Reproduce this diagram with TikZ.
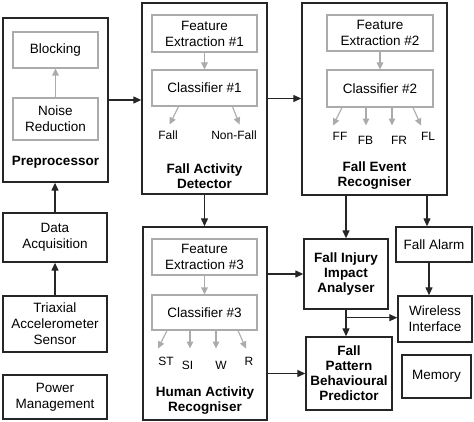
\documentclass[tikz,border=0pt]{standalone}
\usepackage{fontspec}
\setmainfont{Liberation Sans}
\usetikzlibrary{arrows.meta,calc}
\begin{document}
\begin{tikzpicture}[x=1pt,y=-1pt,
  blk/.style={draw=black!85, line width=1.4pt, fill=white, inner sep=0pt, align=center,
              font=\fontsize{13.5}{16}\selectfont},
  sub/.style={draw=black!33, line width=1.1pt, inner sep=0pt, align=center,
              font=\fontsize{13.5}{16}\selectfont},
  ttl/.style={inner sep=0pt, align=center, font=\fontsize{13.5}{15}\selectfont\bfseries},
  outlbl/.style={inner sep=0pt, font=\fontsize{12}{14}\selectfont},
  arr/.style={line width=1.3pt, draw=black!85, -{Triangle[length=8pt,width=7pt]}},
  garr/.style={line width=1.1pt, draw=black!33, -{Triangle[length=7pt,width=6.5pt]}},
]
\useasboundingbox (0,0) rectangle (474,422);

% ---- Preprocessor ----
\node[blk, minimum width=105pt, minimum height=164pt] (pre) at (55.5,100) {};
\node[sub, minimum width=85pt, minimum height=36pt] (blocking) at (55.5,50) {Blocking};
\node[sub, minimum width=85pt, minimum height=42pt] (noise) at (55.5,119) {Noise\\Reduction};
\node[ttl] (prelbl) at (55.5,162) {Preprocessor};
\draw[garr] (noise.north) -- (blocking.south);

% ---- Fall Activity Detector ----
\node[blk, minimum width=125pt, minimum height=191pt] (fad) at (204.5,98.5) {};
\node[sub, minimum width=105pt, minimum height=37pt] (fe1) at (204.5,33.5) {Feature\\Extraction \#1};
\node[sub, minimum width=105pt, minimum height=36pt] (cl1) at (204.5,88) {Classifier \#1};
\node[outlbl] (fall) at (168,135) {Fall};
\node[outlbl] (nonfall) at (234,135) {Non-Fall};
\node[ttl] (fadlbl) at (204.5,176) {Fall Activity\\Detector};
\draw[garr] (fe1.south) -- (cl1.north);
\draw[garr] ($(cl1.south)+(-26,0)$) -- ($(cl1.south)+(-35,18)$);
\draw[garr] ($(cl1.south)+(28,0)$) -- ($(cl1.south)+(35,18)$);

% ---- Fall Event Recogniser ----
\node[blk, minimum width=145pt, minimum height=192pt] (fer) at (374.5,99) {};
\node[sub, minimum width=106pt, minimum height=36pt] (fe2) at (380,33) {Feature\\Extraction \#2};
\node[sub, minimum width=106pt, minimum height=37pt] (cl2) at (380,88.5) {Classifier \#2};
\node[outlbl] (ff) at (340,136) {FF};
\node[outlbl] (fb) at (365.5,140) {FB};
\node[outlbl] (fr) at (399,140) {FR};
\node[outlbl] (fl) at (428,136) {FL};
\node[ttl] (ferlbl) at (374.5,176) {Fall Event\\Recogniser};
\draw[garr] (fe2.south) -- (cl2.north);
\draw[garr] ($(cl2.south)+(-38,0)$) -- ($(cl2.south)+(-47,18)$);
\draw[garr] ($(cl2.south)+(-14,0)$) -- ($(cl2.south)+(-14,18)$);
\draw[garr] ($(cl2.south)+(12,0)$) -- ($(cl2.south)+(12,18)$);
\draw[garr] ($(cl2.south)+(33,0)$) -- ($(cl2.south)+(41,18)$);

% ---- Left column ----
\node[blk, minimum width=104pt, minimum height=49pt] (daq) at (55,237.5) {Data\\Acquisition};
\node[blk, minimum width=104pt, minimum height=56pt] (tri) at (55,324) {Triaxial\\Accelerometer\\Sensor};
\node[blk, minimum width=104pt, minimum height=44pt] (pow) at (55,397) {Power\\Management};

% ---- Human Activity Recogniser ----
\node[blk, minimum width=124pt, minimum height=193pt] (har) at (205,323.5) {};
\node[sub, minimum width=105pt, minimum height=36pt] (fe3) at (204.5,257) {Feature\\Extraction \#3};
\node[sub, minimum width=105pt, minimum height=35pt] (cl3) at (204.5,312.5) {Classifier \#3};
\node[outlbl] (st) at (166,361) {ST};
\node[outlbl] (si) at (187.5,365) {SI};
\node[outlbl] (w) at (221,365) {W};
\node[outlbl] (r) at (249,361) {R};
\node[ttl] (harlbl) at (205,400.5) {Human Activity\\Recogniser};
\draw[garr] (fe3.south) -- (cl3.north);
\draw[garr] ($(cl3.south)+(-37.5,0)$) -- ($(cl3.south)+(-46.5,18)$);
\draw[garr] ($(cl3.south)+(-14.5,0)$) -- ($(cl3.south)+(-14.5,18)$);
\draw[garr] ($(cl3.south)+(11.5,0)$) -- ($(cl3.south)+(11.5,18)$);
\draw[garr] ($(cl3.south)+(33.5,0)$) -- ($(cl3.south)+(41.5,18)$);

% ---- Right column ----
\node[blk, minimum width=84pt, minimum height=70pt, font=\fontsize{13.5}{15}\selectfont\bfseries] (fiia) at (346,274) {Fall Injury\\Impact\\Analyser};
\node[blk, minimum width=76pt, minimum height=35pt] (alarm) at (434,244.5) {Fall Alarm};
\node[blk, minimum width=74pt, minimum height=46pt] (wif) at (435,319) {Wireless\\Interface};
\node[blk, minimum width=86pt, minimum height=73pt, font=\fontsize{13.5}{15}\selectfont\bfseries] (fpbp) at (349,373.5) {Fall\\Pattern\\Behavioural\\Predictor};
\node[blk, minimum width=69pt, minimum height=43pt] (mem) at (436.5,376.5) {Memory};

% ---- Connectors ----
\draw[arr] (pre.east) -- (pre.east -| fad.west);
\draw[arr] (fad.east) -- (fad.east -| fer.west);
\draw[arr] (daq.north) -- (pre.south -| daq.north);
\draw[arr] (tri.north) -- (daq.south);
\draw[arr] (fad.south) -- (fad.south |- har.north);
\draw[arr] (fer.south -| fiia.north) -- (fiia.north);
\coordinate (alarmin) at ($(alarm.north)+(-7,0)$);
\draw[arr] (fer.south -| alarmin) -- (alarmin);
\coordinate (alarmout) at ($(alarm.south)+(-5,0)$);
\draw[arr] (alarmout) -- (alarmout |- wif.north);
\draw[arr] (fiia.west -| har.east) -- (fiia.west);
\draw[arr] (fpbp.west -| har.east) -- (fpbp.west);
\draw[arr] (fiia.south) -- (fiia.south |- fpbp.north);
\coordinate (split) at ($(fiia.south)+(0,8)$);
\draw[arr] (split) -- (split -| wif.west);
\end{tikzpicture}
\end{document}
